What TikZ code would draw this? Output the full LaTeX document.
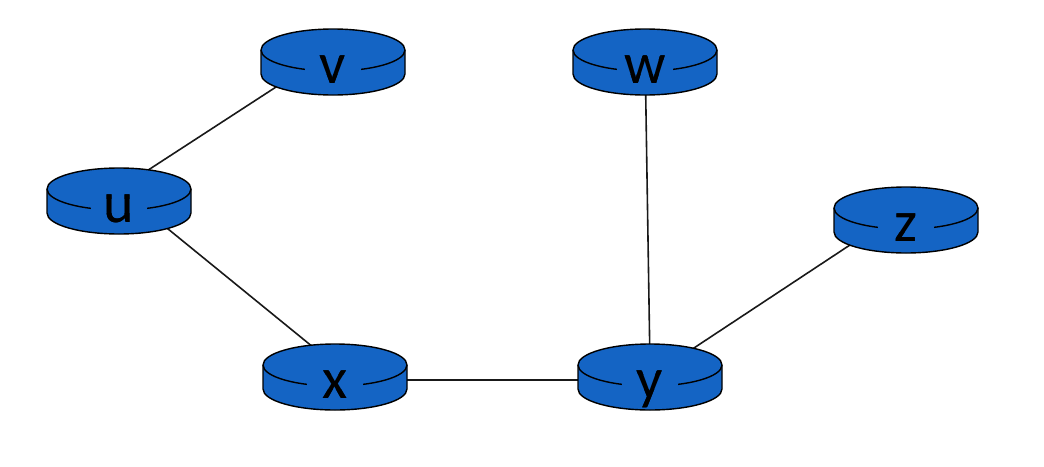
\documentclass[tikz,border=0pt]{standalone}
\usepackage{fontspec}
\setmainfont{Carlito}
\tikzset{lnk/.style={draw=black!90,line width=1.6pt},
 rbody/.style={fill=rblue,draw=black,line width=1.4pt},
 rlab/.style={font=\fontsize{58}{60}\selectfont,inner sep=0pt,anchor=base}}
\definecolor{rblue}{HTML}{1464C4}
\newcommand\myrouter[3]{% name, position, label
  \coordinate (#1) at (#2);
  \fill[rblue] ([xshift=-72pt]#1) -- ++(0,-24pt) arc[start angle=180,end angle=360,x radius=72pt,y radius=21pt] -- ++(0,24pt) arc[start angle=0,end angle=180,x radius=72pt,y radius=21pt] -- cycle;
  \draw[line width=1.4pt] ([xshift=-72pt]#1) -- ++(0,-24pt) arc[start angle=180,end angle=360,x radius=72pt,y radius=21pt] -- ++(0,24pt);
  \draw[line width=1.4pt] (#1) ellipse[x radius=72pt,y radius=21pt];
  \node[rlab] (#1l) at ([yshift=-33pt]#1) {#3};
  \fill[rblue] ([xshift=-28pt,yshift=-24pt]#1) rectangle ([xshift=28pt,yshift=-10pt]#1);
  \node[rlab] at ([yshift=-33pt]#1) {#3};
}
\begin{document}
\begin{tikzpicture}[x=1pt,y=1pt]
\useasboundingbox (0,0) rectangle (1044,-466);
\coordinate (pv) at (333,-50);
\coordinate (pw) at (645,-50);
\coordinate (pu) at (119,-189);
\coordinate (pz) at (906,-208);
\coordinate (px) at (335,-365);
\coordinate (py) at (650,-365);
\draw[lnk] (pu) -- (pv);
\draw[lnk] (pu) -- (px);
\draw[lnk] ([yshift=-15pt]px) -- ([yshift=-15pt]py);
\draw[lnk] (pw) -- (py);
\draw[lnk] (pz) -- ([yshift=-12pt]py);
\myrouter{v}{pv}{v}
\myrouter{w}{pw}{w}
\myrouter{u}{pu}{u}
\myrouter{z}{pz}{z}
\myrouter{x}{px}{x}
\myrouter{y}{py}{y}
\end{tikzpicture}
\end{document}
